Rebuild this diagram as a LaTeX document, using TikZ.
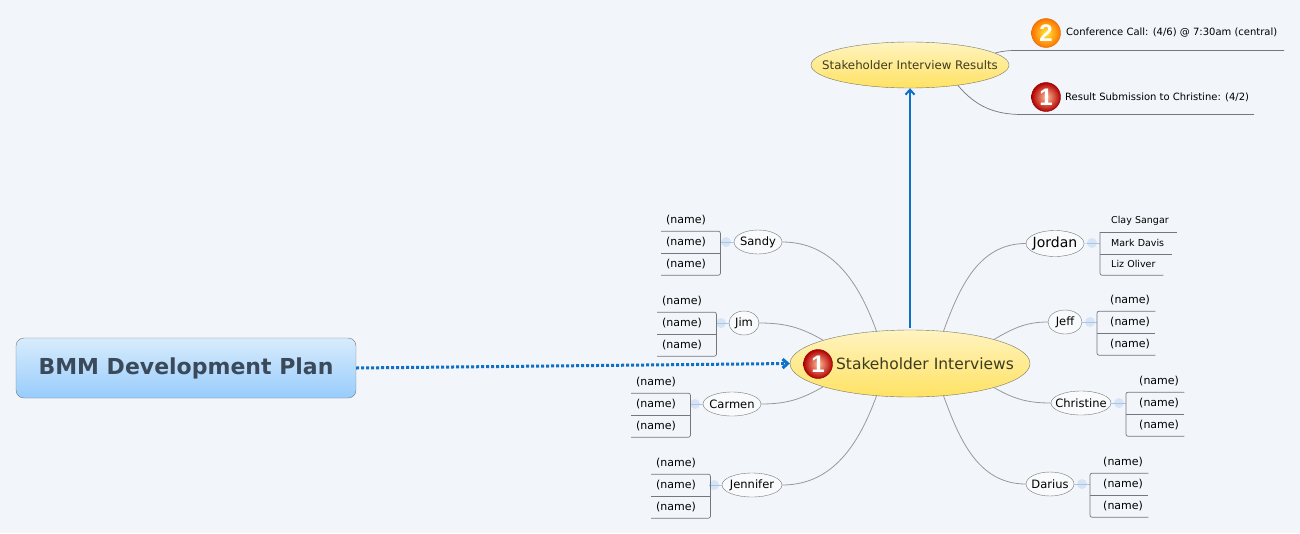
\documentclass[tikz,border=0pt]{standalone}
\usepackage{fontspec}
\setmainfont{DejaVu Sans}
\newfontfamily\digitfont{Liberation Sans}
\usetikzlibrary{shapes.geometric,arrows.meta}
\definecolor{bgcol}{HTML}{F2F5FA}
\definecolor{linecol}{HTML}{74787E}
\definecolor{linklight}{HTML}{96999E}
\definecolor{arrowcol}{HTML}{0F70C8}
\definecolor{topiccol}{HTML}{3C3C20}
\definecolor{topicfill}{HTML}{FFE263}
\definecolor{planink}{HTML}{3B4A5A}
\definecolor{plantop}{HTML}{D8ECFC}
\definecolor{planbot}{HTML}{98CCFC}
\definecolor{foldcol}{HTML}{D6E4F5}
\definecolor{foldink}{HTML}{A9C4E4}
\newcommand{\drop}[1]{\raisebox{-1pt}{#1}}
\tikzset{
	topic/.style={ellipse,draw=linecol!80!olive,top color=topicfill!40!white,bottom color=topicfill,inner sep=0pt,text=topiccol},
	person/.style={ellipse,draw=linecol,fill=white!50!bgcol,inner sep=0pt,minimum height=24pt,font=\fontsize{11.5}{12}\selectfont},
	fold/.style={circle,draw=foldcol,fill=foldcol,inner sep=0pt,minimum size=9.5pt},
	namebox/.style={inner sep=0pt,anchor=west,minimum height=22pt,align=left,font=\fontsize{11}{12}\selectfont},
	tie/.style={draw=linecol,line width=0.7pt},
	link/.style={draw=linklight,line width=0.8pt},
	flow/.style={draw=arrowcol,line width=2pt,-{Straight Barb[length=5pt,width=9pt]}},
	ball/.style={circle,inner sep=0pt,minimum size=29pt,shading=radial,text=white,font=\digitfont\bfseries\fontsize{24}{24}\selectfont},
	redball/.style={ball,inner color=red!25!orange!40!white,outer color=red!70!black,draw=red!50!black},
	goldball/.style={ball,inner color=yellow!80!orange!80!white,outer color=orange!90!red,draw=orange!85!black},
}
\begin{document}
\begin{tikzpicture}[x=1pt,y=-1pt]
\useasboundingbox (0,0) rectangle (1300,533);
\fill[bgcol] (0,0) rectangle (1300,533);

% central topics
\node[rectangle,rounded corners=8pt,draw=linecol,top color=plantop,bottom color=planbot,minimum width=340pt,minimum height=60pt,inner sep=0pt,font=\bfseries\fontsize{22}{26}\selectfont,text=planink] (plan) at (186,368) {BMM Development Plan};
\node[topic,minimum width=240pt,minimum height=67pt,font=\fontsize{15.5}{18}\selectfont] (main) at (910,363.5) {\makebox[0pt]{\hspace*{30pt}Stakeholder Interviews}};
\node[topic,minimum width=198pt,minimum height=46pt,font=\fontsize{11.8}{14}\selectfont] (res) at (910,65) {\makebox[0pt]{\drop{Stakeholder Interview Results}}};
\node[redball] (mainico) at (818,364) {1};

\draw[flow,dash pattern=on 3pt off 2pt,line width=3pt] (plan.east) -- (main.west);
\draw[flow,shorten <=2pt] (main.north) -- (res.south);

% results
\coordinate (confa) at (1022,50.5);
\coordinate (confb) at (1284,50.5);
\coordinate (suba) at (1022,114.5);
\coordinate (subb) at (1254,114.5);
\draw[tie] (res.8) to[out=15,in=180] (confa) -- (confb);
\draw[tie] (res.-23) to[out=-50,in=180] (suba) -- (subb);
\node[goldball] (confico) at (1046,33) {2};
\node[redball] (subico) at (1046,97) {1};
\node[anchor=west,inner sep=0pt,font=\fontsize{10}{12}\selectfont] (conf) at (1066,33) {Conference Call: (4/6) @ 7:30am (central)};
\node[anchor=west,inner sep=0pt,font=\fontsize{10}{12}\selectfont] (sub) at (1065,97) {Result Submission to Christine: (4/2)};

% people on the left
\foreach \who/\tg/\tw/\px/\py/\lx/\ang/\inn in {
	Sandy/sandy/48/758/242/661/136/110,
	Jim/jim/30/744/323/657/165/150,
	Carmen/carmen/58/732/404/631/195/210,
	Jennifer/jennifer/60/752/485/651/-136/-110}{
	\node[person,minimum width=\tw pt] (\tg) at (\px,\py) {\makebox[0pt]{\drop{\who}}};
	\node[fold] (\tg f) at (\px-\tw/2-8,\py) {};
	\foreach \idx in {0,1,2}
		\node[namebox,text width=59pt,execute at begin node=\hspace*{5pt}] (\tg\idx) at (\lx,\py-22+22*\idx) {\drop{(name)}};
	\draw[foldink] (\tg f.west) -- (\tg f.east);
	\draw[foldink] (\tg f.east) -- (\tg.west);
	\draw[foldink] (\tg f.west) -- (\tg f.west -| \tg0.east);
	\draw[tie,rounded corners=2pt] (\tg0.south west) -- (\tg0.south east) -- (\tg2.south east) -- (\tg2.south west);
	\draw[tie] (\tg1.south west) -- (\tg1.south east);
	\draw[link] (\tg) to[out=0,in=\inn] (main.\ang);
}

% people on the right
\foreach \who/\tg/\tw/\px/\py/\lx/\ang/\inn in {
	Jeff/jeff/34/1065/322/1097/16/30,
	Christine/christine/60/1081/403/1126/-16/-30,
	Darius/darius/48/1050/484/1090/-44/-70}{
	\node[person,minimum width=\tw pt] (\tg) at (\px,\py) {\makebox[0pt]{\drop{\who}}};
	\node[fold] (\tg f) at (\px+\tw/2+8,\py) {};
	\foreach \idx in {0,1,2}
		\node[namebox,text width=58pt,execute at begin node=\hspace*{13pt}] (\tg\idx) at (\lx,\py-22+22*\idx) {\drop{(name)}};
	\draw[foldink] (\tg f.west) -- (\tg f.east);
	\draw[foldink] (\tg f.west) -- (\tg.east);
	\draw[foldink] (\tg f.east) -- (\tg f.east -| \tg0.west);
	\draw[tie,rounded corners=2pt] (\tg0.south east) -- (\tg0.south west) -- (\tg2.south west) -- (\tg2.south east);
	\draw[tie] (\tg1.south west) -- (\tg1.south east);
	\draw[link] (\tg) to[out=180,in=\inn] (main.\ang);
}

% Jordan has real names
\node[person,minimum width=58pt,minimum height=26pt,font=\fontsize{14}{14}\selectfont] (jordan) at (1055,243.5) {\makebox[0pt]{\drop{Jordan}}};
\node[fold] (jordanf) at (1092,243) {};
\node[namebox,text width=77pt,font=\fontsize{9.5}{12}\selectfont,execute at begin node=\hspace*{11pt}] (clay) at (1100,221) {Clay Sangar};
\node[namebox,text width=72pt,font=\fontsize{9.5}{12}\selectfont,execute at begin node=\hspace*{11pt}] (mark) at (1100,243) {Mark Davis};
\node[namebox,text width=63pt,font=\fontsize{9.5}{12}\selectfont,execute at begin node=\hspace*{11pt}] (liz) at (1100,264) {Liz Oliver};
\draw[foldink] (jordanf.west) -- (jordanf.east);
\draw[foldink] (jordanf.west) -- (jordan.east);
\draw[foldink] (jordanf.east) -- (jordanf.east -| clay.west);
\draw[tie] (clay.south west) -- (clay.south east);
\draw[tie] (mark.south west) -- (mark.south east);
\draw[tie,rounded corners=2pt] (clay.south west) -- (liz.south west) -- (liz.south east);
\draw[link] (jordan) to[out=180,in=70] (main.44);
\end{tikzpicture}
\end{document}
